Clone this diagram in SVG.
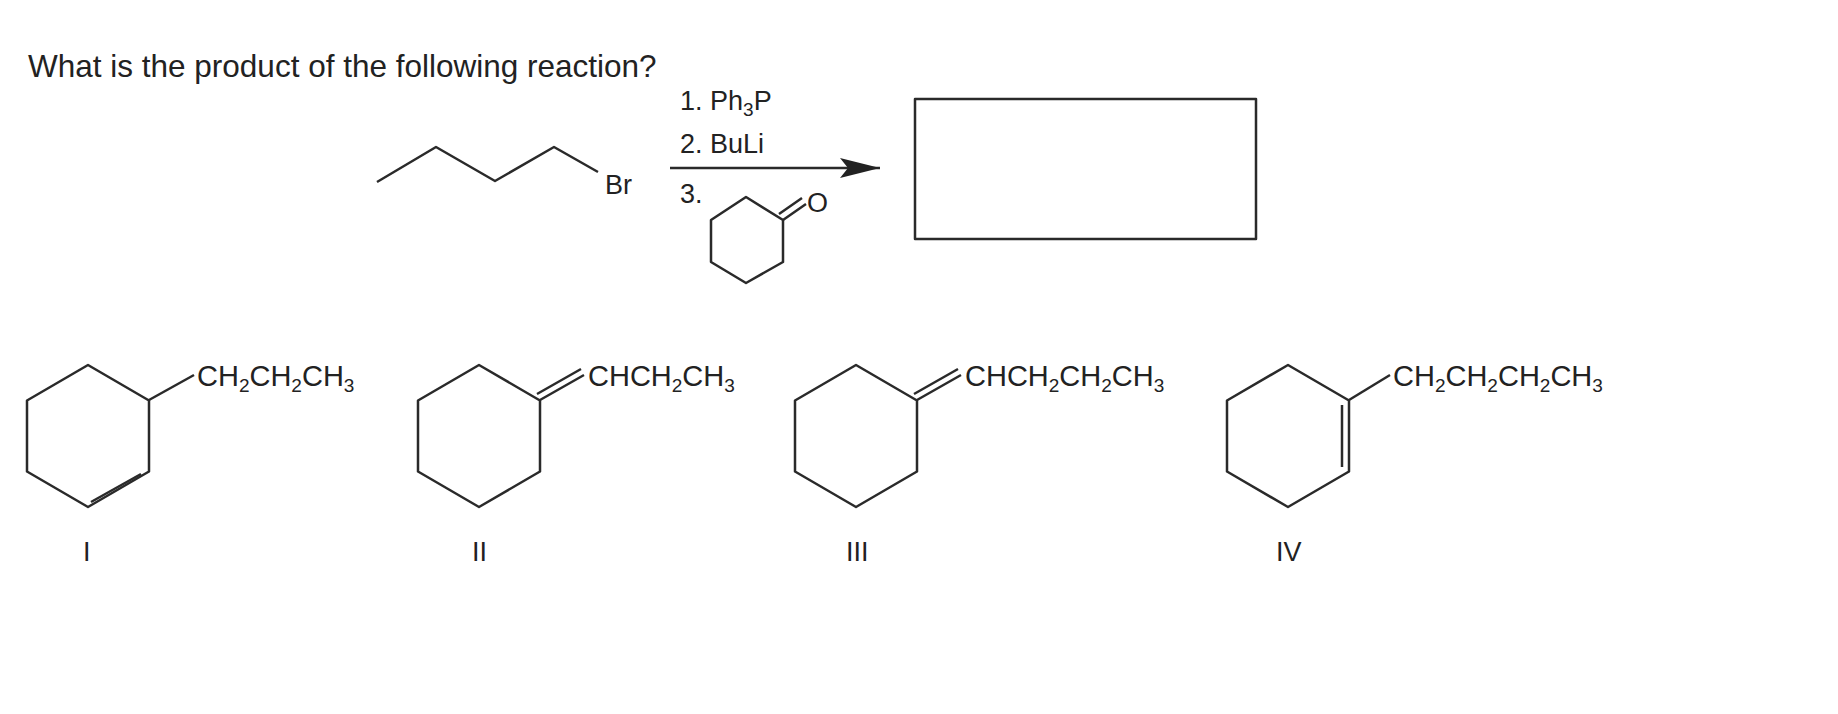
<svg xmlns="http://www.w3.org/2000/svg" width="1838" height="714" viewBox="0 0 1838 714">
<style>
.b{stroke:#2a2a2a;stroke-width:2.5;fill:none;stroke-linejoin:round}
text{font-family:"Liberation Sans",Arial,sans-serif;fill:#222}
.t{font-size:27px}
.m{font-size:29px}
.s{font-size:19px}
</style>
<defs>
<marker id="ah" markerWidth="40" markerHeight="22" refX="40" refY="11" orient="auto" markerUnits="userSpaceOnUse"><path d="M0,1 L40,11 L0,21 L8,11 Z" fill="#222"/></marker>
<g id="ring"><path class="b" d="M0,-71 L61,-35.5 L61,35.5 L0,71 L-61,35.5 L-61,-35.5 Z"/></g>
</defs>
<rect width="1838" height="714" fill="#fff"/>
<text x="28" y="77" style="font-size:31.5px">What is the product of the following reaction?</text>
<g id="reactant">
<polyline class="b" points="377,182 436,147 495,181 554,147 598,172"/>
<text class="t" x="605" y="194">Br</text>
</g>
<g id="reagents">
<text class="t" x="680" y="110">1. Ph<tspan class="s" dy="6">3</tspan><tspan dy="-6">P</tspan></text>
<text class="t" x="680" y="153">2. BuLi</text>
<text class="t" x="680" y="203">3.</text>
<path class="b" d="M746,197 L783,220 L783,262 L746,283 L711,262 L711,220 Z"/>
<path class="b" d="M783,220 L806,204 M779,214 L802,198"/>
<text class="t" x="807" y="212">O</text>
</g>
<g id="connectors">
<line class="b" x1="670" y1="168" x2="880" y2="168" marker-end="url(#ah)"/>
</g>
<g id="answer-box"><rect class="b" x="915" y="99" width="341" height="140"/></g>
<g id="optI">
<use href="#ring" x="88" y="436"/>
<line class="b" x1="141" y1="474" x2="91" y2="502"/>
<line class="b" x1="149" y1="400" x2="194" y2="375"/>
<text class="m" x="197" y="386">CH<tspan class="s" dy="6">2</tspan><tspan dy="-6">CH</tspan><tspan class="s" dy="6">2</tspan><tspan dy="-6">CH</tspan><tspan class="s" dy="6">3</tspan></text>
<text class="t" x="83" y="561">I</text>
</g>
<g id="optII">
<use href="#ring" x="479" y="436"/>
<path class="b" d="M540,400 L584,375 M537,394 L581,369"/>
<text class="m" x="588" y="386">CHCH<tspan class="s" dy="6">2</tspan><tspan dy="-6">CH</tspan><tspan class="s" dy="6">3</tspan></text>
<text class="t" x="472" y="561">II</text>
</g>
<g id="optIII">
<use href="#ring" x="856" y="436"/>
<path class="b" d="M917,400 L961,375 M914,394 L958,369"/>
<text class="m" x="965" y="386">CHCH<tspan class="s" dy="6">2</tspan><tspan dy="-6">CH</tspan><tspan class="s" dy="6">2</tspan><tspan dy="-6">CH</tspan><tspan class="s" dy="6">3</tspan></text>
<text class="t" x="846" y="561">III</text>
</g>
<g id="optIV">
<use href="#ring" x="1288" y="436"/>
<line class="b" x1="1342" y1="405" x2="1342" y2="467"/>
<line class="b" x1="1349" y1="400" x2="1390" y2="375"/>
<text class="m" x="1393" y="386">CH<tspan class="s" dy="6">2</tspan><tspan dy="-6">CH</tspan><tspan class="s" dy="6">2</tspan><tspan dy="-6">CH</tspan><tspan class="s" dy="6">2</tspan><tspan dy="-6">CH</tspan><tspan class="s" dy="6">3</tspan></text>
<text class="t" x="1276" y="561">IV</text>
</g>
</svg>
